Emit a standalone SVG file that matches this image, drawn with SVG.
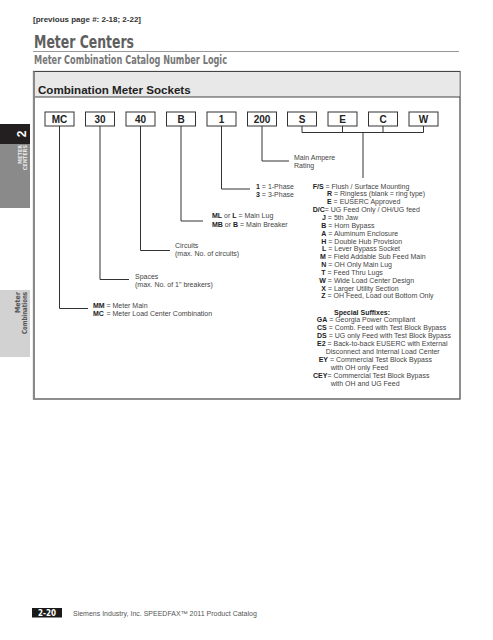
<svg xmlns="http://www.w3.org/2000/svg" width="493" height="640" viewBox="0 0 493 640">
<style>
.t{font-family:"Liberation Sans",Arial,sans-serif;font-size:7px;fill:#444}
.b{font-weight:bold;fill:#222}
.cond{font-family:"Liberation Sans Narrow","DejaVu Sans Condensed","Liberation Sans",sans-serif;font-weight:bold}
.code rect{fill:#fff;stroke:#333;stroke-width:1}
.code text{font-family:"Liberation Sans",Arial,sans-serif;font-size:10px;font-weight:bold;fill:#222;text-anchor:middle}
.conn path{fill:none;stroke:#333;stroke-width:1}
</style>
<rect width="493" height="640" fill="#fff"/>
<!-- header -->
<text x="33" y="22" font-family="Liberation Sans,Arial,sans-serif" font-size="8" font-weight="bold" fill="#333">[previous page #: 2-18; 2-22]</text>
<text class="cond" x="34" y="47.7" font-size="17.5" fill="#5f5f5f" textLength="100" lengthAdjust="spacingAndGlyphs">Meter Centers</text>
<line x1="33" y1="51.5" x2="459" y2="51.5" stroke="#999" stroke-width="1.2"/>
<text class="cond" x="34" y="64" font-size="12" fill="#777" textLength="193" lengthAdjust="spacingAndGlyphs">Meter Combination Catalog Number Logic</text>
<!-- side tabs -->
<g id="tab-meter-centers">
<rect x="0" y="124" width="30" height="20" fill="#231f20"/>
<rect x="0" y="144" width="30" height="64" fill="#8a8a8a"/>
<text transform="translate(26,134) rotate(-90)" font-family="Liberation Sans,Arial,sans-serif" font-size="12" font-weight="bold" fill="#fff" text-anchor="middle">2</text>
<text class="cond" transform="translate(22,145) rotate(-90)" font-size="5.5" fill="#e6e6e6" text-anchor="end">METER</text>
<text class="cond" transform="translate(27,145) rotate(-90)" font-size="5.5" fill="#e6e6e6" text-anchor="end">CENTERS</text>
</g>
<g id="tab-meter-combinations">
<rect x="0" y="290" width="30" height="67" fill="#d2d2d2"/>
<text class="cond" transform="translate(20,292) rotate(-90)" font-size="7" fill="#555" text-anchor="end">Meter</text>
<text class="cond" transform="translate(27,292) rotate(-90)" font-size="7" fill="#555" text-anchor="end" textLength="42" lengthAdjust="spacingAndGlyphs">Combinations</text>
</g>
<!-- panel -->
<g id="panel">
<rect x="33.5" y="71.5" width="426.5" height="327.5" fill="#fff" stroke="#444" stroke-width="1.2"/>
<rect x="34" y="72" width="425.5" height="25" fill="#e8e8e8"/>
<line x1="33.5" y1="97" x2="460" y2="97" stroke="#444" stroke-width="1.2"/>
<line x1="34" y1="71.5" x2="34" y2="399" stroke="#888" stroke-width="2"/>
<text x="38" y="94" font-family="Liberation Sans,Arial,sans-serif" font-size="11.6" font-weight="bold" fill="#222">Combination Meter Sockets</text>
</g>
<!-- connectors -->
<g id="connectors" class="conn">
<path d="M59.5 126V308.5H88"/>
<path d="M100 126V279.5H129"/>
<path d="M140.5 126V250.5H170"/>
<path d="M181 126V221H203"/>
<path d="M221.5 126V189H250"/>
<path d="M262 126V161H289"/>
<path d="M302 126V132.5M342.5 126V132.5M383 126V132.5M423.5 126V132.5M302 132.5H423.5M363 132.5V178"/>
</g>
<!-- code boxes -->
<g id="node-mc" class="code"><rect x="45" y="112" width="29" height="14"/><text x="59.5" y="122.6">MC</text></g>
<g id="node-30" class="code"><rect x="85.5" y="112" width="29" height="14"/><text x="100" y="122.6">30</text></g>
<g id="node-40" class="code"><rect x="126" y="112" width="29" height="14"/><text x="140.5" y="122.6">40</text></g>
<g id="node-b" class="code"><rect x="166.5" y="112" width="29" height="14"/><text x="181" y="122.6">B</text></g>
<g id="node-1" class="code"><rect x="207" y="112" width="29" height="14"/><text x="221.5" y="122.6">1</text></g>
<g id="node-200" class="code"><rect x="247.5" y="112" width="29" height="14"/><text x="262" y="122.6">200</text></g>
<g id="node-s" class="code"><rect x="287.5" y="112" width="29" height="14"/><text x="302" y="122.6">S</text></g>
<g id="node-e" class="code"><rect x="328" y="112" width="29" height="14"/><text x="342.5" y="122.6">E</text></g>
<g id="node-c" class="code"><rect x="368.5" y="112" width="29" height="14"/><text x="383" y="122.6">C</text></g>
<g id="node-w" class="code"><rect x="409" y="112" width="29" height="14"/><text x="423.5" y="122.6">W</text></g>
<!-- labels -->
<g id="label-mc">
<text class="t" x="93" y="307.5"><tspan class="b">MM</tspan><tspan x="106.5">= Meter Main</tspan></text>
<text class="t" x="93" y="315.5"><tspan class="b">MC</tspan><tspan x="106.5">= Meter Load Center Combination</tspan></text>
</g>
<g id="label-spaces">
<text class="t" x="135" y="278.5">Spaces</text>
<text class="t" x="135" y="286.5">(max. No. of 1" breakers)</text>
</g>
<g id="label-circuits">
<text class="t" x="175" y="248">Circuits</text>
<text class="t" x="175" y="256">(max. No. of circuits)</text>
</g>
<g id="label-main">
<text class="t" x="212" y="218"><tspan class="b">ML</tspan> or <tspan class="b">L</tspan> = Main Lug</text>
<text class="t" x="212" y="226.5"><tspan class="b">MB</tspan> or <tspan class="b">B</tspan> = Main Breaker</text>
</g>
<g id="label-phase">
<text class="t" x="256" y="188.8"><tspan class="b">1</tspan> = 1-Phase</text>
<text class="t" x="256" y="196.8"><tspan class="b">3</tspan> = 3-Phase</text>
</g>
<g id="label-ampere">
<text class="t" x="294" y="160">Main Ampere</text>
<text class="t" x="294" y="167.7">Rating</text>
</g>
<g id="label-options">
<text class="t" x="312.7" y="188.5"><tspan class="b">F/S</tspan> = Flush / Surface Mounting</text>
<text class="t" x="327" y="196.4"><tspan class="b">R</tspan> = Ringless (blank = ring type)</text>
<text class="t" x="327" y="204.2"><tspan class="b">E</tspan> = EUSERC Approved</text>
<text class="t" x="312.7" y="212.1"><tspan class="b">D/C</tspan>= UG Feed Only / OH/UG feed</text>
<text class="t" x="322" y="219.9"><tspan class="b">J</tspan> = 5th Jaw</text>
<text class="t" x="321.3" y="227.8"><tspan class="b">B</tspan> = Horn Bypass</text>
<text class="t" x="321.3" y="235.6"><tspan class="b">A</tspan> = Aluminum Enclosure</text>
<text class="t" x="321.3" y="243.5"><tspan class="b">H</tspan> = Double Hub Provision</text>
<text class="t" x="322" y="251.3"><tspan class="b">L</tspan> = Lever Bypass Socket</text>
<text class="t" x="320" y="259.2"><tspan class="b">M</tspan> = Field Addable Sub Feed Main</text>
<text class="t" x="321.3" y="267"><tspan class="b">N</tspan> = OH Only Main Lug</text>
<text class="t" x="321.3" y="274.9"><tspan class="b">T</tspan> = Feed Thru Lugs</text>
<text class="t" x="319.3" y="282.7"><tspan class="b">W</tspan> = Wide Load Center Design</text>
<text class="t" x="321.3" y="290.6"><tspan class="b">X</tspan> = Larger Utility Section</text>
<text class="t" x="321.3" y="298.4"><tspan class="b">Z</tspan> = OH Feed, Load out Bottom Only</text>
</g>
<g id="label-special">
<text class="t b" x="334" y="315.3" font-size="7.3">Special Suffixes:</text>
<text class="t" x="316.7" y="322.3"><tspan class="b">GA</tspan> = Georgia Power Compliant</text>
<text class="t" x="317" y="330.2"><tspan class="b">CS</tspan> = Comb. Feed with Test Block Bypass</text>
<text class="t" x="317" y="338.1"><tspan class="b">DS</tspan> = UG only Feed with Test Block Bypass</text>
<text class="t" x="317" y="346"><tspan class="b">E2</tspan> = Back-to-back EUSERC with External</text>
<text class="t" x="325.7" y="353.9">Disconnect and Internal Load Center</text>
<text class="t" x="318.7" y="361.8"><tspan class="b">EY</tspan> = Commercial Test Block Bypass</text>
<text class="t" x="330.7" y="369.7">with OH only Feed</text>
<text class="t" x="313" y="377.6"><tspan class="b">CEY</tspan>= Commercial Test Block Bypass</text>
<text class="t" x="330.7" y="385.5">with OH and UG Feed</text>
</g>
<!-- footer -->
<rect x="32" y="608" width="30" height="9.5" fill="#1a1a1a"/>
<text class="cond" x="47" y="616" font-size="8" fill="#fff" text-anchor="middle">2-20</text>
<text x="73" y="615.5" font-family="Liberation Sans,Arial,sans-serif" font-size="7" fill="#555">Siemens Industry, Inc. SPEEDFAX™ 2011 Product Catalog</text>
</svg>
